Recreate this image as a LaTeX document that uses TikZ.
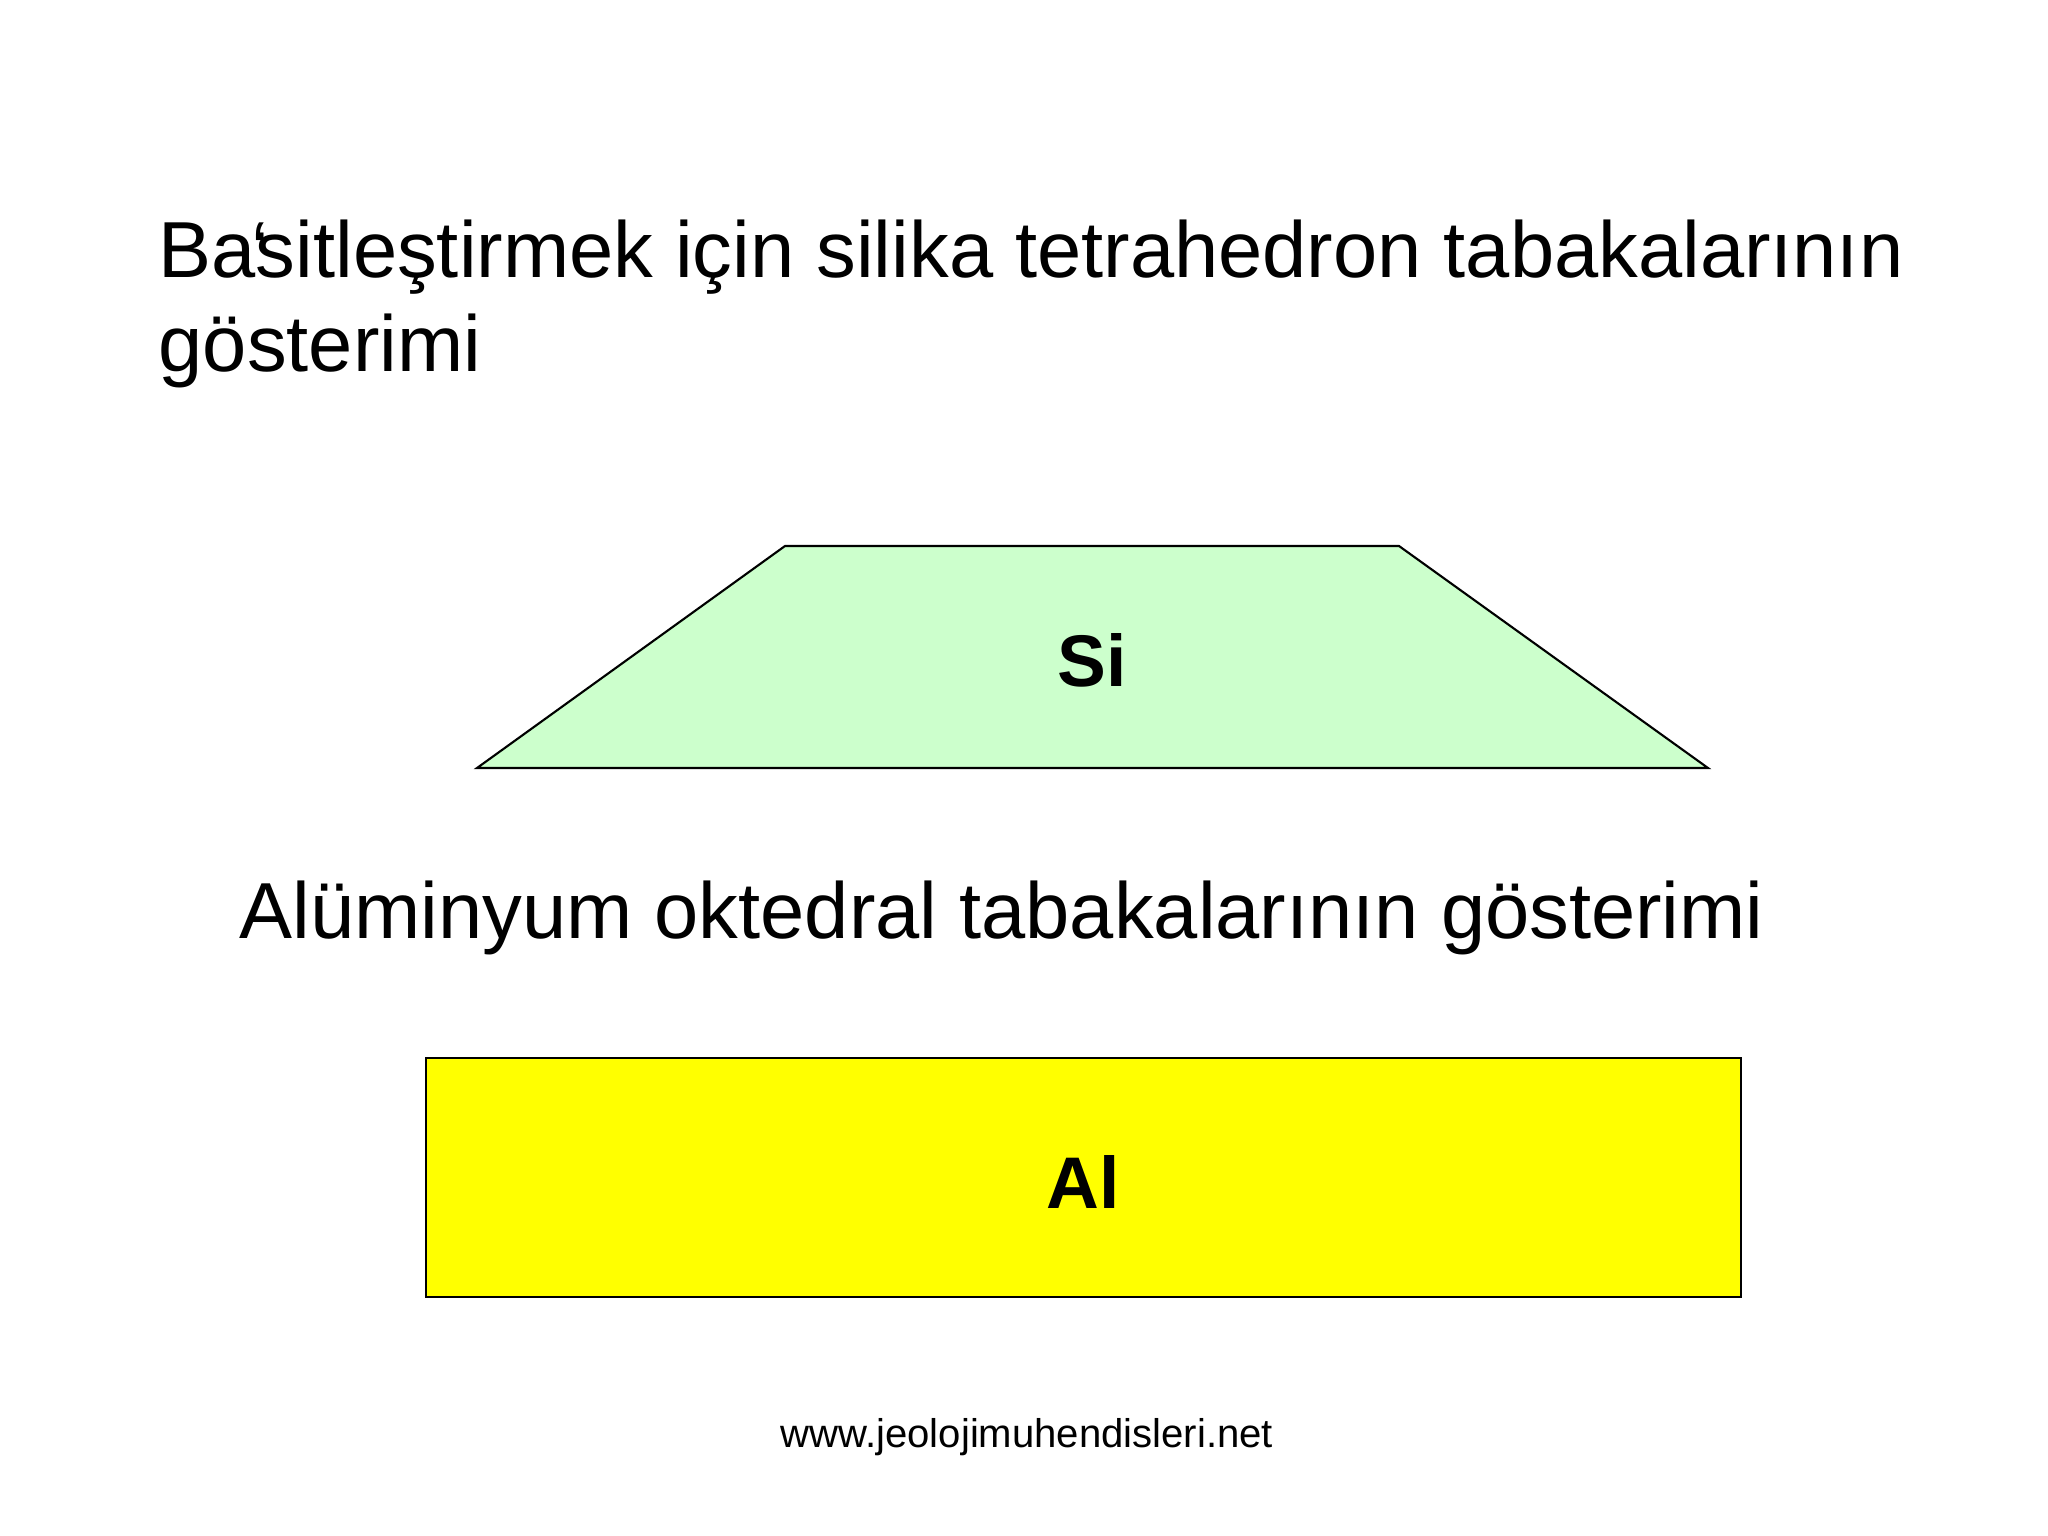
\documentclass[tikz,border=0pt]{standalone}
\usepackage{fontspec}
\setmainfont{Liberation Sans}
\usetikzlibrary{positioning}

\definecolor{sigreen}{RGB}{204,255,204}
\definecolor{alyellow}{RGB}{255,255,0}

\tikzset{
  heading/.style={anchor=base west, inner sep=0pt, align=left,
    font=\fontsize{22.6}{26.5}\selectfont},
  sheet/.style={draw=black, line width=0.6pt},
  ionlabel/.style={inner sep=0pt, font=\fontsize{20.8}{24}\selectfont\bfseries}
}

\begin{document}
\begin{tikzpicture}[x=0.01cm, y=-0.01cm]
\useasboundingbox (0,0) rectangle (2048,1536);

% headings (base = last line)
\node[heading] (title) at (158,371)
  {Ba\kern-0.06em\rlap{‘}\kern0.06em sitleştirmek için silika tetrahedron tabakalarının\\gösterimi};
\node[heading] (octa) at (239,938) {Alüminyum oktedral tabakalarının gösterimi};

% tetrahedral sheet
\draw[sheet, fill=sigreen] (785,546) -- (1399,546) -- (1708,768) -- (477,768) -- cycle;
\node[ionlabel] (si) at (1092,660) {Si};

% octahedral sheet
\draw[sheet, fill=alyellow, line width=0.7pt] (426,1058) rectangle (1741,1297);
\node[ionlabel] (al) at (1083,1182) {Al};

% source
\node[anchor=base west, inner sep=0pt, font=\fontsize{11.4}{13}\selectfont] (url)
  at (780,1447) {www.jeolojimuhendisleri.net};

\end{tikzpicture}
\end{document}
